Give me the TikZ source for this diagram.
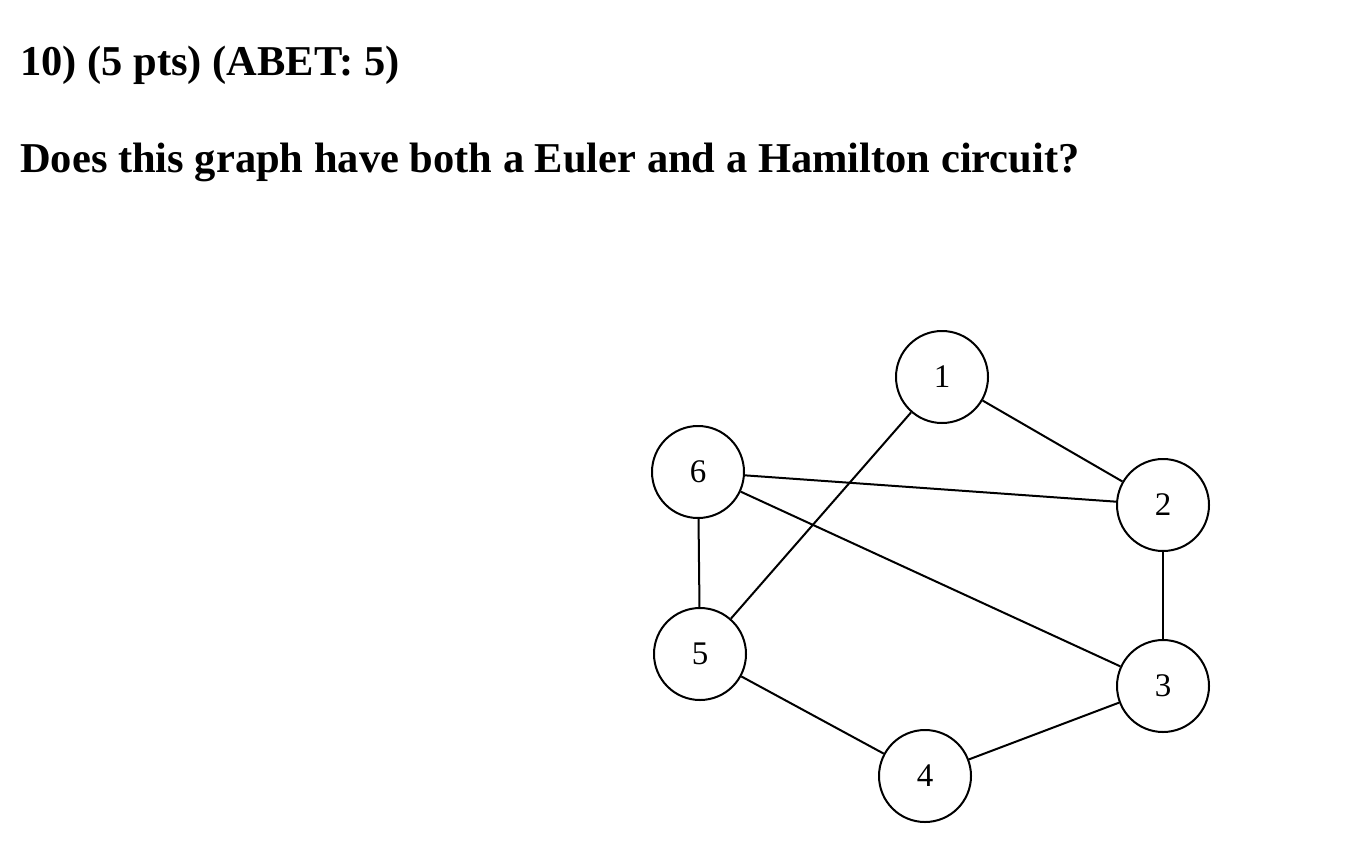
\documentclass[tikz,border=0pt]{standalone}
\usepackage{fontspec}
\setmainfont{Liberation Serif}
\begin{document}
\begin{tikzpicture}[x=1pt,y=-1pt,
  vertex/.style={draw,circle,line width=2pt,minimum size=92pt,inner sep=0pt,font=\fontsize{33}{35}\selectfont},
  edge/.style={line width=2pt},
  title/.style={anchor=base west,inner sep=0pt,font=\bfseries\fontsize{42.5}{44}\selectfont}]
\useasboundingbox (0,0) rectangle (1364,860);
\node[title] (head) at (20,75) {10) (5 pts) (ABET: 5)};
\node[title] (quest) at (20,172) {Does this graph have both a Euler and a Hamilton circuit?};
% vertices
\foreach \n/\x/\y in {1/942/377,2/1163/505,3/1163/686,4/925/776,5/700/654,6/698/472}
  \node[vertex] (v\n) at (\x,\y) {\n};
% edges
\foreach \a/\b in {1/2,1/5,6/2,6/5,6/3,2/3,5/4,4/3}
  \draw[edge] (v\a) -- (v\b);
\end{tikzpicture}
\end{document}
